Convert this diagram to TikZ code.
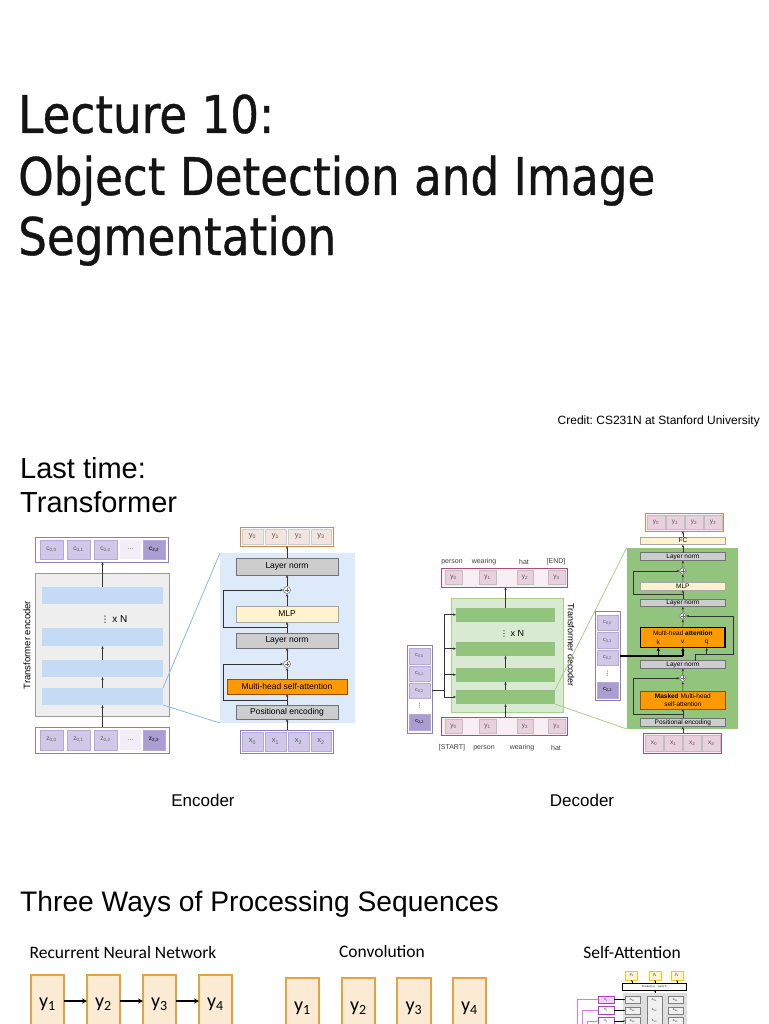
\documentclass[tikz,border=0pt]{standalone}
\usepackage{fontspec}
\setmainfont{Liberation Sans}
\newfontfamily\titlefont[FakeStretch=0.87,FakeBold=0.7]{DejaVu Sans}
\newfontfamily\djv{DejaVu Sans}
\newfontfamily\calfont{Carlito}
\usetikzlibrary{arrows.meta}
\definecolor{pbord}{HTML}{8E7CC3}
\definecolor{pcell}{HTML}{D0C8E8}
\definecolor{pcelld}{HTML}{A99DD2}
\definecolor{pcellb}{HTML}{B5A9D9}
\definecolor{obord}{HTML}{D08A50}
\definecolor{ocell}{HTML}{F2E4DE}
\definecolor{mbord}{HTML}{A64D79}
\definecolor{mcell}{HTML}{E8D0DC}
\definecolor{mfill}{HTML}{F8EEF3}
\definecolor{grayboxfill}{HTML}{EEEEEE}
\definecolor{bluebar}{HTML}{C4DAF5}
\definecolor{bluepanel}{HTML}{DCEAFA}
\definecolor{blueline}{HTML}{8EB8E2}
\definecolor{lngray}{HTML}{CDCDCD}
\definecolor{mlpy}{HTML}{FFF2CC}
\definecolor{orng}{HTML}{FF9900}
\definecolor{greenlt}{HTML}{D9EAD3}
\definecolor{greenmd}{HTML}{93C47D}
\definecolor{greenline}{HTML}{A8D08D}
\definecolor{rnnb}{HTML}{E3A33E}
\definecolor{rnnf}{HTML}{FBEBD4}
\definecolor{yb}{HTML}{F5C518}
\definecolor{yf}{HTML}{FFF6D5}
\definecolor{vb}{HTML}{B040C0}
\definecolor{vf}{HTML}{EBD5F5}
\definecolor{vl}{HTML}{D77BE6}
\newcommand\bx[7]{%
  \pgfmathsetmacro\bxw{#4-#2}\pgfmathsetmacro\bxh{#5-#3}%
  \pgfmathsetmacro\bxx{(#2+#4)/2}\pgfmathsetmacro\bxy{(#3+#5)/2}%
  \node[#6, minimum width=\bxw pt, minimum height=\bxh pt] (#1) at (\bxx,\bxy) {#7};}
\frenchspacing
\begin{document}
\begin{tikzpicture}[x=1pt,y=-1pt,
  fnt/.style={font=\fontsize{#1}{#1}\selectfont},
  bx/.style={rectangle,inner sep=0pt,outer sep=0pt},
  lnbox/.style={bx,fill=lngray,draw=black!55,line width=0.6pt,fnt=8.5},
  mlpbox/.style={bx,fill=mlpy,draw=black!35,line width=0.6pt,fnt=8.5},
  orbox/.style={bx,fill=orng,draw=orange!60!black,line width=0.6pt,fnt=8.5},
  rowp/.style={bx,draw=pbord,line width=1pt,fill=white},
  rowo/.style={bx,draw=obord,line width=1pt,fill=white},
  rowm/.style={bx,draw=mbord,line width=1pt,fill=mfill},
  cellp/.style={bx,fill=pcell,draw=pcellb,line width=0.4pt,text=black!65,fnt=6.5},
  cellpd/.style={cellp,fill=pcelld,text=black!80},
  cellpe/.style={cellp,fill=pcell!30,draw=none},
  cello/.style={bx,fill=ocell,draw=black!20,line width=0.4pt,text=black!65,fnt=7.5},
  cellm/.style={bx,fill=mcell,draw=black!25,line width=0.4pt,text=black!65,fnt=6.5},
  ar/.style={-{Stealth[length=3pt,width=2.4pt]},line width=0.6pt,draw=black!80},
  lnk/.style={line width=0.6pt,draw=black!80},
  plusc/.style={circle,draw=black!60,fill=white,line width=0.5pt,minimum size=7pt,inner sep=0pt,
    path picture={\draw[line width=0.4pt] ([xshift=-2pt]path picture bounding box.center) -- ([xshift=2pt]path picture bounding box.center)
      ([yshift=-2pt]path picture bounding box.center) -- ([yshift=2pt]path picture bounding box.center);}},
  rnnbox/.style={bx,draw=rnnb,fill=rnnf,line width=1.3pt},
  ylab/.style={font=\calfont\fontsize{20}{20}\selectfont},
  rar/.style={-{Stealth[length=5pt,width=5pt]},line width=1.6pt},
  sar/.style={-{Stealth[length=1.6pt,width=1.4pt]},line width=0.35pt},
]
\clip (0,0) rectangle (768,1024);
\fill[white] (0,0) rectangle (768,1024);

% ---------- titles ----------
\node[anchor=base west,inner sep=0pt,font=\titlefont\fontsize{52}{52}\selectfont,text=black!92] (t1) at (18,133) {Lecture 10:};
\node[anchor=base west,inner sep=0pt,font=\titlefont\fontsize{52}{52}\selectfont,text=black!92] (t2) at (18,195) {Object Detection and Image};
\node[anchor=base west,inner sep=0pt,font=\titlefont\fontsize{52}{52}\selectfont,text=black!92] (t3) at (18,255) {Segmentation};
\node[anchor=base east,inner sep=0pt,fnt=12] (credit) at (760,424) {Credit: CS231N at Stanford University};
\node[anchor=base west,inner sep=0pt,fnt=29] (lt1) at (20,478) {Last time:};
\node[anchor=base west,inner sep=0pt,fnt=29] (lt2) at (20,512) {Transformer};

% ---------- encoder (left) ----------
\bx{encout}{35}{537}{168}{562}{rowp}{}
\bx{eo1}{40}{540}{63}{559}{cellp}{c\textsubscript{0,0}}
\bx{eo2}{67}{540}{90}{559}{cellp}{c\textsubscript{0,1}}
\bx{eo3}{94}{540}{117}{559}{cellp}{c\textsubscript{0,2}}
\bx{eo4}{120}{540}{141}{559}{cellpe}{...}
\bx{eo5}{143}{540}{165}{559}{cellpd}{\textbf{c\textsubscript{2,2}}}
\bx{encbox}{35}{573}{169}{716}{bx,fill=grayboxfill,draw=black!40,line width=0.8pt}{}
\bx{eb1}{42}{587}{163}{604}{bx,fill=bluebar}{}
\bx{eb2}{42}{628}{163}{646}{bx,fill=bluebar}{}
\bx{eb3}{42}{660}{163}{677}{bx,fill=bluebar}{}
\bx{eb4}{42}{688}{163}{705}{bx,fill=bluebar}{}
\node[fnt=10] (encN) at (114,619) {{\djv\fontsize{9}{9}\selectfont ⋮} x N};
\node[rotate=90,fnt=9.5] (enclab) at (27,645) {Transformer encoder};
\bx{encin}{35}{727}{169}{753}{rowp}{}
\bx{ei1}{40}{730}{63}{750}{cellp}{z\textsubscript{0,0}}
\bx{ei2}{67}{730}{90}{750}{cellp}{z\textsubscript{0,1}}
\bx{ei3}{94}{730}{117}{750}{cellp}{z\textsubscript{0,2}}
\bx{ei4}{120}{730}{141}{750}{cellpe}{...}
\bx{ei5}{143}{730}{165}{750}{cellpd}{\textbf{z\textsubscript{2,2}}}
\draw[ar] (eb4.south |- encin.north) -- (eb4.south);
\draw[ar] (eb4.north) -- (eb3.south);
\draw[ar] (eb3.north) -- (eb2.south);
\draw[ar] (eb1.north) -- (eb1.north |- encout.south);

% encoder zoom panel
\bx{encpanel}{220}{553}{355}{723}{bx,fill=bluepanel}{}
\draw[blueline,line width=0.8pt] (eb4.north east) -- (encpanel.north west);
\draw[blueline,line width=0.8pt] (eb4.south east) -- (encpanel.south west);
\bx{eyout}{240}{527}{333}{546}{rowo}{}
\bx{ey1}{242}{529}{263}{544}{cello}{y\textsubscript{0}}
\bx{ey2}{265}{529}{286}{544}{cello}{y\textsubscript{1}}
\bx{ey3}{288}{529}{309}{544}{cello}{y\textsubscript{2}}
\bx{ey4}{311}{529}{331}{544}{cello}{y\textsubscript{3}}
\bx{eln1}{236}{558}{338}{575}{lnbox}{Layer norm}
\node[plusc] (ep1) at (287,590) {};
\bx{emlp}{236}{606}{338}{622}{mlpbox}{MLP}
\bx{eln2}{236}{633}{338}{648}{lnbox}{Layer norm}
\node[plusc] (ep2) at (287,664) {};
\bx{emha}{227}{679}{347}{694}{orbox}{Multi-head self-attention}
\bx{epe}{236}{705}{338}{719}{lnbox}{Positional encoding}
\bx{exin}{240}{730}{333}{753}{rowp}{}
\bx{ex1}{242}{732}{263}{751}{cellp,fnt=7.5}{x\textsubscript{0}}
\bx{ex2}{265}{732}{286}{751}{cellp,fnt=7.5}{x\textsubscript{1}}
\bx{ex3}{288}{732}{309}{751}{cellp,fnt=7.5}{x\textsubscript{2}}
\bx{ex4}{311}{732}{331}{751}{cellp,fnt=7.5}{x\textsubscript{2}}
\draw[ar] (epe.south |- exin.north) -- (epe.south);
\draw[ar] (epe.north) -- (emha.south);
\draw[ar] (emha.north) -- (ep2.south);
\draw[ar] (ep2.north) -- (eln2.south);
\draw[ar] (eln2.north) -- (emlp.south);
\draw[ar] (emlp.north) -- (ep1.south);
\draw[ar] (ep1.north) -- (eln1.south);
\draw[ar] (eln1.north) -- (eln1.north |- eyout.south);
\coordinate (er1) at (287,627);
\coordinate (er2) at (287,700);
\draw[ar] (er1) -- (223,627) -- (223,590) -- (ep1.west);
\draw[ar] (er2) -- (223,700) -- (223,664) -- (ep2.west);
\node[fnt=17] (enclabel) at (203,800) {Encoder};

% ---------- decoder (left) ----------
\node[fnt=7,text=black!75] (wt1) at (452,562) {person};
\node[fnt=7,text=black!75] (wt2) at (484,562) {wearing};
\node[fnt=7,text=black!75] (wt3) at (524,562) {hat};
\node[fnt=7,text=black!75] (wt4) at (556,562) {[END]};
\bx{dyout}{441}{568}{567}{587}{rowm}{}
\bx{dy1}{445}{570.5}{462}{584.5}{cellm}{y\textsubscript{0}}
\bx{dy2}{479}{570.5}{496}{584.5}{cellm}{y\textsubscript{1}}
\bx{dy3}{517}{570.5}{533}{584.5}{cellm}{y\textsubscript{2}}
\bx{dy4}{548}{570.5}{565}{584.5}{cellm}{y\textsubscript{3}}
\bx{dgbox}{451}{598}{563}{712}{bx,fill=greenlt,draw=greenline,line width=0.6pt}{}
\bx{db1}{456}{607.7}{555}{621.7}{bx,fill=greenmd}{}
\bx{db2}{456}{641.7}{555}{655.7}{bx,fill=greenmd}{}
\bx{db3}{456}{667.7}{555}{681.7}{bx,fill=greenmd}{}
\bx{db4}{456}{690}{555}{704}{bx,fill=greenmd}{}
\node[fnt=9] (decN) at (512,634) {{\djv\fontsize{8}{8}\selectfont ⋮} x N};
\node[rotate=-90,fnt=9] (declab) at (571,645) {Transformer decoder};
\bx{dyin}{441}{717}{567}{735}{rowm}{}
\bx{di1}{445}{719}{462}{733}{cellm}{y\textsubscript{0}}
\bx{di2}{479}{719}{496}{733}{cellm}{y\textsubscript{1}}
\bx{di3}{517}{719}{533}{733}{cellm}{y\textsubscript{2}}
\bx{di4}{548}{719}{565}{733}{cellm}{y\textsubscript{3}}
\node[fnt=7,text=black!75] (wb1) at (452,748) {[START]};
\node[fnt=7,text=black!75] (wb2) at (484,748) {person};
\node[fnt=7,text=black!75] (wb3) at (522,748) {wearing};
\node[fnt=7,text=black!75] (wb4) at (556,748) {hat};
\draw[ar] (db4.south |- dyin.north) -- (db4.south);
\draw[ar] (db4.north) -- (db3.south);
\draw[ar] (db3.north) -- (db2.south);
\draw[ar] (db1.north) -- (db1.north |- dyout.south);
% memory column
\bx{dlcol}{407}{645}{432}{733}{rowp}{}
\bx{dlc1}{409}{648}{430}{664}{cellp,fnt=5.5}{c\textsubscript{0,0}}
\bx{dlc2}{409}{666}{430}{681}{cellp,fnt=5.5}{c\textsubscript{0,1}}
\bx{dlc3}{409}{683}{430}{698}{cellp,fnt=5.5}{c\textsubscript{0,2}}
\bx{dlc4}{409}{700}{430}{712}{bx,fill=white,fnt=6}{\djv ⋮}
\bx{dlc5}{409}{714}{430}{730}{cellpd,fnt=5.5}{\textbf{c\textsubscript{2,2}}}
\coordinate (mc) at (432,690);
\coordinate (mcj) at (444,690);
\coordinate (bus1) at (444,614.7);
\coordinate (bus2) at (444,648.7);
\coordinate (bus3) at (444,674.7);
\coordinate (bus4) at (444,697);
\draw[lnk] (mc) -- (mcj);
\draw[lnk] (bus1) -- (bus4);
\draw[ar] (bus1) -- (db1.west);
\draw[ar] (bus2) -- (db2.west);
\draw[ar] (bus3) -- (db3.west);
\draw[ar] (bus4) -- (db4.west);

% ---------- decoder zoom panel ----------
\bx{dpanel}{626.7}{547.7}{738.3}{729}{bx,fill=greenmd}{}
\draw[greenline,line width=0.8pt] (db4.north east) -- (dpanel.north west);
\draw[greenline,line width=0.8pt] (db4.south east) -- (dpanel.south west);
\bx{dout}{645}{513}{723.3}{531}{bx,draw=obord,line width=1pt,fill=mfill}{}
\bx{do1}{647}{515}{665}{529}{cellm}{y\textsubscript{0}}
\bx{do2}{666}{515}{684}{529}{cellm}{y\textsubscript{1}}
\bx{do3}{685}{515}{703}{529}{cellm}{y\textsubscript{2}}
\bx{do4}{704}{515}{722}{529}{cellm}{y\textsubscript{3}}
\bx{dfc}{640}{537}{725.7}{544.5}{mlpbox,fnt=6.5}{FC}
\bx{dln1}{640.7}{552.7}{725}{560.5}{lnbox,fnt=6.5}{Layer norm}
\node[plusc,minimum size=6pt] (dp1) at (682.85,571) {};
\bx{dmlp}{640.7}{582.3}{725}{590}{mlpbox,fnt=6.5}{MLP}
\bx{dln2}{640.7}{599}{725}{606.5}{lnbox,fnt=6.5}{Layer norm}
\node[plusc,minimum size=6pt] (dp2) at (682.85,616) {};
\bx{dmha}{640.7}{627.7}{725}{647.7}{bx,fill=orng,draw=black,line width=1.3pt}{}
\node[fnt=6.5] (dmhat) at (682.85,633.5) {Multi-head \textbf{attention}};
\node[fnt=6.5] (dk) at (658.3,642) {k};
\node[fnt=6.5] (dv) at (682.85,642) {v};
\node[fnt=6.5] (dq) at (706.7,642) {q};
\bx{dln3}{640.7}{660.7}{725}{668.3}{lnbox,fnt=6.5}{Layer norm}
\node[plusc,minimum size=6pt] (dp3) at (682.85,678.3) {};
\bx{dmask}{640.7}{691}{725}{709}{orbox,font=\fontsize{6.5}{7.5}\selectfont,align=center}{\textbf{Masked} Multi-head\\self-attention}
\bx{dpe}{640.7}{718.3}{725}{726.7}{lnbox,fnt=6.5}{Positional encoding}
\bx{din}{643.3}{733.3}{721.7}{753.3}{rowm}{}
\bx{dx1}{645}{735}{663}{751.5}{cellm}{x\textsubscript{0}}
\bx{dx2}{664.5}{735}{682}{751.5}{cellm}{x\textsubscript{1}}
\bx{dx3}{683.5}{735}{701}{751.5}{cellm}{x\textsubscript{2}}
\bx{dx4}{702.5}{735}{720}{751.5}{cellm}{x\textsubscript{3}}
\draw[ar] (dpe.south |- din.north) -- (dpe.south);
\draw[ar] (dpe.north) -- (dmask.south);
\draw[ar] (dmask.north) -- (dp3.south);
\draw[ar] (dp3.north) -- (dln3.south);
\draw[ar] (dmha.north) -- (dp2.south);
\draw[ar] (dp2.north) -- (dln2.south);
\draw[ar] (dln2.north) -- (dmlp.south);
\draw[ar] (dmlp.north) -- (dp1.south);
\draw[ar] (dp1.north) -- (dln1.south);
\draw[ar] (dln1.north) -- (dfc.south);
\draw[ar] (dfc.north) -- (dfc.north |- dout.south);
\coordinate (rm1) at (682.85,714);
\coordinate (rm2) at (682.85,594.5);
\draw[ar] (rm1) -- (633.3,714) -- (633.3,678.3) -- (dp3.west);
\draw[ar] (rm2) -- (633.3,594.5) -- (633.3,571) -- (dp1.west);
\coordinate (qs) at (695,660.7);
\coordinate (qt) at (706.7,654);
\draw[ar] (qs) -- (695,654) -- (733,654) -- (733,616) -- (dp2.east);
\draw[ar] (qt) -- (qt |- dmha.south);
% memory column right
\bx{drcol}{595}{611.7}{620}{700}{rowp}{}
\bx{drc1}{597}{615}{618}{630.5}{cellp,fnt=5.5}{c\textsubscript{0,0}}
\bx{drc2}{597}{632.5}{618}{648.5}{cellp,fnt=5.5}{c\textsubscript{0,1}}
\bx{drc3}{597}{650.5}{618}{665.5}{cellp,fnt=5.5}{c\textsubscript{0,2}}
\bx{drc4}{597}{667.5}{618}{680.5}{bx,fill=white,fnt=6}{\djv ⋮}
\bx{drc5}{597}{682.5}{618}{698}{cellpd,fnt=5.5}{\textbf{c\textsubscript{2,2}}}
\coordinate (kvs) at (620,655.7);
\coordinate (kpt) at (658.3,655.7);
\coordinate (vpt) at (682.85,655.7);
\draw[line width=2.2pt] (kvs) -- (vpt);
\draw[-{Stealth[length=3.5pt,width=3.5pt]},line width=1.4pt] (kpt) -- (kpt |- dmha.south);
\draw[-{Stealth[length=3.5pt,width=3.5pt]},line width=1.4pt] (vpt) -- (vpt |- dmha.south);
\node[fnt=17] (declabel) at (582,800) {Decoder};

% ---------- three ways ----------
\node[anchor=base west,inner sep=0pt,fnt=28.2] (three) at (20,911) {Three Ways of Processing Sequences};
\node[anchor=base,font=\calfont\fontsize{17.5}{17.5}\selectfont] (rnnlab) at (123,958) {Recurrent Neural Network};
\node[anchor=base,font=\calfont\fontsize{17.5}{17.5}\selectfont] (convlab) at (382,957) {Convolution};
\node[anchor=base,font=\calfont\fontsize{17.5}{17.5}\selectfont] (salab) at (632,958) {Self-Attention};
% RNN
\bx{r1}{31}{975}{64}{1040}{rnnbox}{}
\bx{r2}{87}{975}{120}{1040}{rnnbox}{}
\bx{r3}{143}{975}{176}{1040}{rnnbox}{}
\bx{r4}{199}{975}{232}{1040}{rnnbox}{}
\node[ylab] (r1t) at (47.5,1004) {y\textsubscript{1}};
\node[ylab] (r2t) at (103.5,1004) {y\textsubscript{2}};
\node[ylab] (r3t) at (159.5,1004) {y\textsubscript{3}};
\node[ylab] (r4t) at (215.5,1004) {y\textsubscript{4}};
\coordinate (ra1) at (64,1001); \coordinate (ra2) at (87,1001);
\coordinate (rb1) at (120,1001); \coordinate (rb2) at (143,1001);
\coordinate (rc1) at (176,1001); \coordinate (rc2) at (199,1001);
\draw[rar] (ra1) -- (ra2);
\draw[rar] (rb1) -- (rb2);
\draw[rar] (rc1) -- (rc2);
% Convolution
\bx{c1}{286}{978}{319}{1040}{rnnbox}{}
\bx{c2}{342}{978}{375}{1040}{rnnbox}{}
\bx{c3}{397}{978}{431}{1040}{rnnbox}{}
\bx{c4}{453}{978}{486}{1040}{rnnbox}{}
\node[ylab] (c1t) at (302.5,1008) {y\textsubscript{1}};
\node[ylab] (c2t) at (358.5,1008) {y\textsubscript{2}};
\node[ylab] (c3t) at (414,1008) {y\textsubscript{3}};
\node[ylab] (c4t) at (469.5,1008) {y\textsubscript{4}};
% Self-attention mini diagram
\bx{sy1}{625.7}{971}{637.7}{980}{bx,draw=yb,fill=yf,line width=0.8pt,fnt=3.5}{y\textsubscript{1}}
\bx{sy2}{649}{971}{661}{980}{bx,draw=yb,fill=yf,line width=0.8pt,fnt=3.5}{y\textsubscript{2}}
\bx{sy3}{671}{971}{683}{980}{bx,draw=yb,fill=yf,line width=0.8pt,fnt=3.5}{y\textsubscript{3}}
\bx{sbar}{622.7}{983.3}{686.7}{990}{bx,draw=black,fill=white,line width=0.6pt,fnt=2.6}{Product({\djv →}),\quad Sum({\djv ↑})}
\bx{sgray}{622.7}{993}{686.7}{1040}{bx,fill=black!13}{}
\draw[sar] (sbar.north -| sy1.south) -- (sy1.south);
\draw[sar] (sbar.north -| sy2.south) -- (sy2.south);
\draw[sar] (sbar.north -| sy3.south) -- (sy3.south);
\draw[sar] (sgray.north) -- (sbar.south);
\bx{sa11}{625}{996}{640}{1003.3}{bx,draw=black!50,fill=black!6,line width=0.3pt,fnt=2.8}{A\textsubscript{1,1}}
\bx{sa12}{625}{1006.7}{640}{1014}{bx,draw=black!50,fill=black!6,line width=0.3pt,fnt=2.8}{A\textsubscript{1,2}}
\bx{sa13}{625}{1017.3}{640}{1024.6}{bx,draw=black!50,fill=black!6,line width=0.3pt,fnt=2.8}{A\textsubscript{1,3}}
\bx{sa2}{647}{996}{662}{1040}{bx,draw=black!50,fill=black!6,line width=0.3pt}{}
\node[fnt=2.8] (sa21) at (654.5,999.7) {A\textsubscript{2,1}};
\node[fnt=2.8] (sa22) at (654.5,1010.3) {A\textsubscript{2,2}};
\node[fnt=2.8] (sa23) at (654.5,1021) {A\textsubscript{2,3}};
\bx{sa31}{668}{996}{683}{1003.3}{bx,draw=black!50,fill=black!6,line width=0.3pt,fnt=2.8}{A\textsubscript{3,1}}
\bx{sa32}{668}{1006.7}{683}{1014}{bx,draw=black!50,fill=black!6,line width=0.3pt,fnt=2.8}{A\textsubscript{3,2}}
\bx{sa33}{668}{1017.3}{683}{1024.6}{bx,draw=black!50,fill=black!6,line width=0.3pt,fnt=2.8}{A\textsubscript{3,3}}
\bx{sv1}{598}{996}{614}{1003.3}{bx,draw=vb,fill=vf,line width=0.7pt,fnt=3}{V\textsubscript{1}}
\bx{sv2}{598}{1006.7}{614}{1014}{bx,draw=vb,fill=white,line width=0.7pt,fnt=3}{V\textsubscript{2}}
\bx{sv3}{598}{1017.3}{614}{1024.6}{bx,draw=vb,fill=white,line width=0.7pt,fnt=3}{V\textsubscript{3}}
\draw[sar] (sv1.east) -- (sa11.west);
\draw[sar] (sv2.east) -- (sa12.west);
\draw[sar] (sv3.east) -- (sa13.west);
\coordinate (sl1) at (577,1040);
\coordinate (sl2) at (582,1040);
\coordinate (sl3) at (587,1040);
\draw[sar,draw=vl,line width=0.6pt] (sl1) |- (sv1.west);
\draw[sar,draw=vl,line width=0.6pt] (sl2) |- (sv2.west);
\draw[sar,draw=vl,line width=0.6pt] (sl3) |- (sv3.west);
\end{tikzpicture}
\end{document}
